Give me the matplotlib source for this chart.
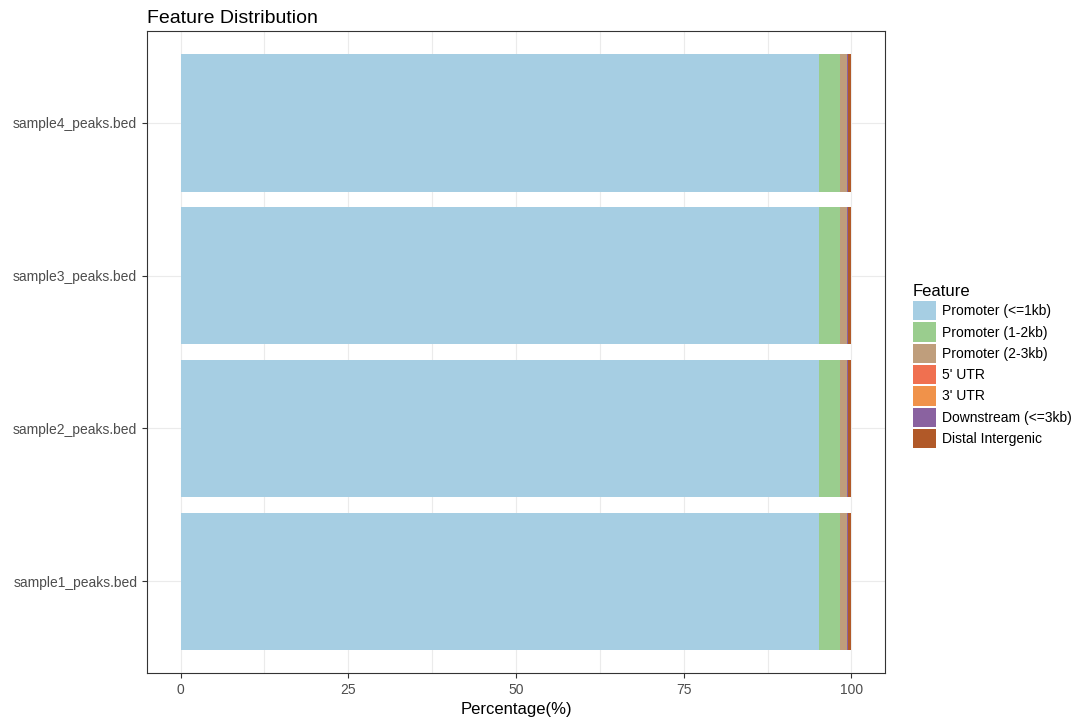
import matplotlib.pyplot as plt
import numpy as np

plt.rcParams['font.family'] = ['Liberation Sans', 'DejaVu Sans']

samples = ['sample1_peaks.bed', 'sample2_peaks.bed', 'sample3_peaks.bed', 'sample4_peaks.bed']
features = ['Promoter (<=1kb)', 'Promoter (1-2kb)', 'Promoter (2-3kb)', "5' UTR",
            "3' UTR", 'Downstream (<=3kb)', 'Distal Intergenic']
colors = ['#A6CEE3', '#9ACD8E', '#BF9E7C', '#F07050', '#F0924A', '#8A62A0', '#B15928']
# percentages per sample (rows follow samples), columns follow features
pct = np.array([
    [95.2, 3.1, 1.0, 0.05, 0.05, 0.05, 0.55],
    [95.2, 3.1, 1.0, 0.05, 0.05, 0.05, 0.55],
    [95.2, 3.1, 1.0, 0.05, 0.05, 0.05, 0.55],
    [95.2, 3.1, 1.0, 0.05, 0.05, 0.05, 0.55],
])

fig = plt.figure(figsize=(10.8, 7.25), dpi=100)
ax = fig.add_axes([147/1080, 1-673/725, (885-147)/1080, (673-31)/725])
y = np.arange(len(samples))
left = np.zeros(len(samples))
for j, f in enumerate(features):
    ax.barh(y, pct[:, j], left=left, height=0.9, color=colors[j], label=f, zorder=2)
    left += pct[:, j]

ax.set_xlim(-5, 105)
ax.set_ylim(-0.6, 3.6)
ax.set_xticks([0, 25, 50, 75, 100])
ax.set_yticks(y)
ax.set_yticklabels(samples)
ax.set_xticks([12.5, 37.5, 62.5, 87.5], minor=True)
ax.grid(True, which='both', color='#EBEBEB', lw=0.8, zorder=0)
ax.tick_params(colors='#333333', labelcolor='#4D4D4D', labelsize=10, which='both')
ax.tick_params(which='minor', length=0)
for s in ax.spines.values():
    s.set_color('#333333')
    s.set_linewidth(0.8)
ax.set_xlabel('Percentage(%)', fontsize=12, labelpad=4)
ax.set_title('Feature Distribution', loc='left', fontsize=14, pad=6)

handles, labels = ax.get_legend_handles_labels()
leg = fig.legend(handles, labels, title='Feature', loc='center left',
                 bbox_to_anchor=(900/1080, 0.495), frameon=False, fontsize=10,
                 title_fontsize=12, handlelength=1.7, handleheight=1.75,
                 handletextpad=0.4, labelspacing=0.15)
leg._legend_box.align = 'left'
fig.savefig('out.png', dpi=100)
